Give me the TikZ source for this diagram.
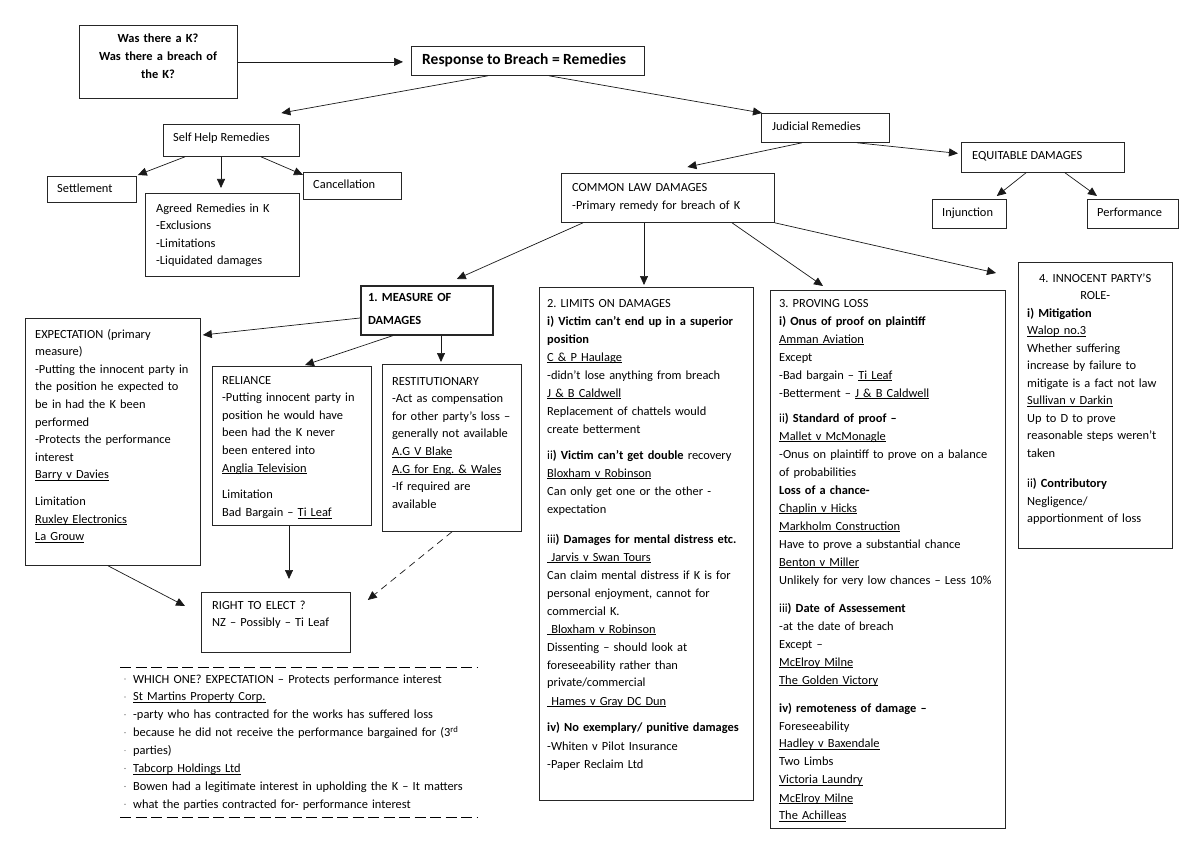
\documentclass[tikz,border=0pt]{standalone}
\usepackage{fontspec}
\setmainfont{Carlito}
\usetikzlibrary{arrows.meta}
\newsavebox\ulbox
\newcommand\uln[1]{\leavevmode\sbox\ulbox{#1}\rlap{\rule[-2pt]{\wd\ulbox}{0.55pt}}\usebox\ulbox}
\newcommand\bodyfs[1]{\fontsize{12.4}{#1}\selectfont}
\frenchspacing
\begin{document}
\frenchspacing
\begin{tikzpicture}[x=1pt,y=-1pt,
  box/.style={draw=black!85, line width=0.8pt, inner sep=0pt, anchor=north west},
  txt/.style={inner sep=0pt, anchor=base west, align=left, text width=260pt},
  lbl/.style={inner sep=0pt, anchor=mid west, font=\bodyfs{18}},
  arr/.style={-{Triangle[length=9pt,width=8pt]}, line width=0.7pt, draw=black!90},
  darr/.style={arr, dash pattern=on 7pt off 5pt}]
\useasboundingbox (0,0) rectangle (1200,848);
\fill[white] (0,0) rectangle (1200,848);

% ---------- top row ----------
\node[box, minimum width=158pt, minimum height=73pt] (q) at (79,25) {};
\node[inner sep=0pt, anchor=base, align=center, text width=150pt, font=\bfseries\bodyfs{18}] (qt) at (158,43) {Was there a K?\\Was there a breach of\\the K?};
\node[box, minimum width=233pt, minimum height=29pt] (resp) at (411,46) {};
\node[inner sep=0pt, anchor=mid west, font=\bfseries\fontsize{15.5}{18}\selectfont] (respt) at (422,62) {Response to Breach = Remedies};

\node[box, minimum width=136pt, minimum height=32pt] (self) at (163,124) {};
\node[lbl] (selft) at (173,139) {Self Help Remedies};
\node[box, minimum width=89pt, minimum height=26pt] (settle) at (47,176) {};
\node[lbl] (settlet) at (57,190) {Settlement};
\node[box, minimum width=98pt, minimum height=27pt] (cancel) at (303,172) {};
\node[lbl] (cancelt) at (313,186) {Cancellation};
\node[box, minimum width=154pt, minimum height=83pt] (agreed) at (145,193) {};
\node[txt, font=\bodyfs{17.6}] (agreedt) at (156,212) {Agreed Remedies in K\\-Exclusions\\-Limitations\\-Liquidated damages};

\node[box, minimum width=128pt, minimum height=29pt] (jud) at (761,113) {};
\node[lbl] (judt) at (772,128) {Judicial Remedies};
\node[box, minimum width=163pt, minimum height=30pt] (equit) at (961,142) {};
\node[lbl] (equitt) at (972,157) {EQUITABLE DAMAGES};
\node[box, minimum width=74pt, minimum height=29pt] (inj) at (932,199) {};
\node[lbl] (injt) at (942,214) {Injunction};
\node[box, minimum width=91pt, minimum height=29pt] (perf) at (1087,199) {};
\node[lbl] (perft) at (1097,214) {Performance};

\node[box, minimum width=213pt, minimum height=49pt] (common) at (561,173) {};
\node[txt, font=\bodyfs{18}] (commont) at (572,191) {COMMON LAW DAMAGES\\-Primary remedy for breach of K};

% ---------- measure of damages ----------
\node[box, line width=1.6pt, minimum width=132pt, minimum height=49pt] (measure) at (360,285) {};
\node[txt, font=\bfseries\bodyfs{23}] (measuret) at (368,301) {1. MEASURE OF\\DAMAGES};

\node[box, minimum width=175pt, minimum height=247pt] (expect) at (25,318) {};
\node[txt, font=\bodyfs{17.6}] (expectt) at (35,338) {EXPECTATION (primary\\measure)\\-Putting the innocent party in\\the position he expected to\\be in had the K been\\performed\\-Protects the performance\\interest\\\uln{Barry v Davies}\\[9pt]Limitation\\\uln{Ruxley Electronics}\\\uln{La Grouw}};

\node[box, minimum width=159pt, minimum height=159pt] (reliance) at (212,366) {};
\node[txt, font=\bodyfs{17.6}] (reliancet) at (222,384) {RELIANCE\\-Putting innocent party in\\position he would have\\been had the K never\\been entered into\\\uln{Anglia Television}\\[9pt]Limitation\\Bad Bargain -- \uln{Ti Leaf}};

\node[box, minimum width=139pt, minimum height=167pt] (restit) at (382,364) {};
\node[txt, font=\bodyfs{17.6}] (restitt) at (392,385) {RESTITUTIONARY\\-Act as compensation\\for other party's loss --\\generally not available\\\uln{A.G V Blake}\\\uln{A.G for Eng. \& Wales}\\-If required are\\available};

\node[box, minimum width=149pt, minimum height=60pt] (right) at (201,592) {};
\node[txt, font=\bodyfs{17.5}] (rightt) at (212,609) {RIGHT TO ELECT ?\\NZ -- Possibly -- Ti Leaf};

% ---------- limits ----------
\node[box, minimum width=214pt, minimum height=513pt] (limits) at (539,287) {};
\node[txt, font=\bodyfs{18}] (limitst) at (547,307) {2. LIMITS ON DAMAGES\\
\textbf{i) Victim can't end up in a superior}\\
\textbf{position}\\
\uln{C \& P Haulage}\\
-didn't lose anything from breach\\
\uln{J \& B Caldwell}\\
Replacement of chattels would\\
create betterment\\[8pt]
ii\textbf{) Victim can't get double} recovery\\
\uln{Bloxham v Robinson}\\
Can only get one or the other -\\
expectation\\[12pt]
iii\textbf{) Damages for mental distress etc.}\\
\uln{\ Jarvis v Swan Tours}\\
Can claim mental distress if K is for\\
personal enjoyment, cannot for\\
commercial K.\\
\uln{\ Bloxham v Robinson}\\
Dissenting -- should look at\\
foreseeability rather than\\
private/commercial\\
\uln{\ Hames v Gray DC Dun}\\[9pt]
\textbf{iv) No exemplary/ punitive damages}\\
-Whiten v Pilot Insurance\\
-Paper Reclaim Ltd};

% ---------- proving loss ----------
\node[box, minimum width=235pt, minimum height=538pt] (proving) at (770,290) {};
\node[txt, font=\bodyfs{18}] (provingt) at (779,307) {3. PROVING LOSS\\
\textbf{i) Onus of proof on plaintiff}\\
\uln{Amman Aviation}\\
Except\\
-Bad bargain -- \uln{Ti Leaf}\\
-Betterment -- \uln{J \& B Caldwell}\\[7pt]
ii\textbf{) Standard of proof --}\\
\uln{Mallet v McMonagle}\\
-Onus on plaintiff to prove on a balance\\
of probabilities\\
\textbf{Loss of a chance-}\\
\uln{Chaplin v Hicks}\\
\uln{Markholm Construction}\\
Have to prove a substantial chance\\
\uln{Benton v Miller}\\
Unlikely for very low chances -- Less 10\%\\[10pt]
iii\textbf{) Date of Assessement}\\
-at the date of breach\\
Except --\\
\uln{McElroy Milne}\\
\uln{The Golden Victory}\\[10pt]
\textbf{iv) remoteness of damage --}\\
Foreseeability\\
\uln{Hadley v Baxendale}\\
Two Limbs\\
\uln{Victoria Laundry}\\
\uln{McElroy Milne}\\
\uln{The Achilleas}};

% ---------- innocent party ----------
\node[box, minimum width=154pt, minimum height=286pt] (innocent) at (1018,262) {};
\node[txt, font=\bodyfs{17.5}] (innocentt) at (1027,282) {\makebox[136pt][c]{4. INNOCENT PARTY'S}\\
\makebox[136pt][c]{ROLE-}\\
\textbf{i) Mitigation}\\
\uln{Walop no.3}\\
Whether suffering\\
increase by failure to\\
mitigate is a fact not law\\
\uln{Sullivan v Darkin}\\
Up to D to prove\\
reasonable steps weren't\\
taken\\[13pt]
ii\textbf{) Contributory}\\
Negligence/\\
apportionment of loss};

% ---------- bottom note ----------
\draw[line width=0.8pt, dash pattern=on 11pt off 4.5pt] (120,667) -- (477,667);
\draw[line width=0.8pt, dash pattern=on 11pt off 4.5pt] (120,817) -- (477,817);
\foreach \k in {0,...,7} \fill[black!70] (125,{679+17.9*\k}) circle (0.6pt);
\node[txt, text width=400pt, font=\bodyfs{17.9}] (which) at (133,683) {WHICH ONE? EXPECTATION -- Protects performance interest\\
\uln{St Martins Property Corp.}\\
-party who has contracted for the works has suffered loss\\
because he did not receive the performance bargained for (3\textsuperscript{rd}\\
parties)\\
\uln{Tabcorp Holdings Ltd}\\
Bowen had a legitimate interest in upholding the K -- It matters\\
what the parties contracted for- performance interest};

% ---------- connectors ----------
\draw[arr, shorten >=8pt] (q.east) -- (q.east -| resp.west);
\draw[arr] ([xshift=77pt]resp.south west) -- ([xshift=50pt,yshift=11pt]self.north);
\draw[arr] ([xshift=138pt]resp.south west) -- ([xshift=1pt]jud.north west);
\draw[arr] ([xshift=22pt]self.south west) -- ([xshift=1pt,yshift=1pt]settle.north east);
\draw[arr] ([xshift=58pt]self.south west) -- ([xshift=76pt,yshift=5pt]agreed.north west);
\draw[arr] ([xshift=98pt]self.south west) -- ([yshift=11pt]cancel.west);
\draw[arr] ([xshift=41pt]jud.south west) -- ([xshift=19.5pt,yshift=6pt]common.north);
\draw[arr] ([xshift=96pt]jud.south west) -- ([xshift=-3pt,yshift=4pt]equit.west);
\draw[arr] ([xshift=65pt]equit.south west) -- ([xshift=-10pt,yshift=3pt]inj.north east);
\draw[arr] ([xshift=104pt]equit.south west) -- ([xshift=10pt,yshift=3pt]perf.north west);
\draw[arr] ([xshift=22pt]common.south west) -- ([xshift=30pt,yshift=6pt]measure.north);
\draw[arr] ([xshift=83pt]common.south west) -- ([xshift=105pt,yshift=2pt]limits.north west);
\draw[arr] ([xshift=171pt]common.south west) -- ([xshift=53pt,yshift=4pt]proving.north west);
\draw[arr] (common.south east) -- ([xshift=-22pt,yshift=-11pt]innocent.north west);
\draw[arr] ([yshift=-33pt]measure.north west) -- ([xshift=2pt,yshift=-17pt]expect.north east);
\draw[arr] ([xshift=33pt]measure.south west) -- ([xshift=93pt,yshift=1pt]reliance.north west);
\draw[arr] ([xshift=81pt]measure.south west) -- ([xshift=59pt,yshift=2pt]restit.north west);
\draw[arr] ([xshift=83pt]expect.south west) -- ([xshift=-16pt,yshift=-14pt]right.north west);
\draw[arr] ([xshift=77pt]reliance.south west) -- ([xshift=88pt,yshift=13pt]right.north west);
\draw[darr] ([xshift=70pt]restit.south west) -- ([xshift=17pt,yshift=-8pt]right.north east);
\end{tikzpicture}
\end{document}
